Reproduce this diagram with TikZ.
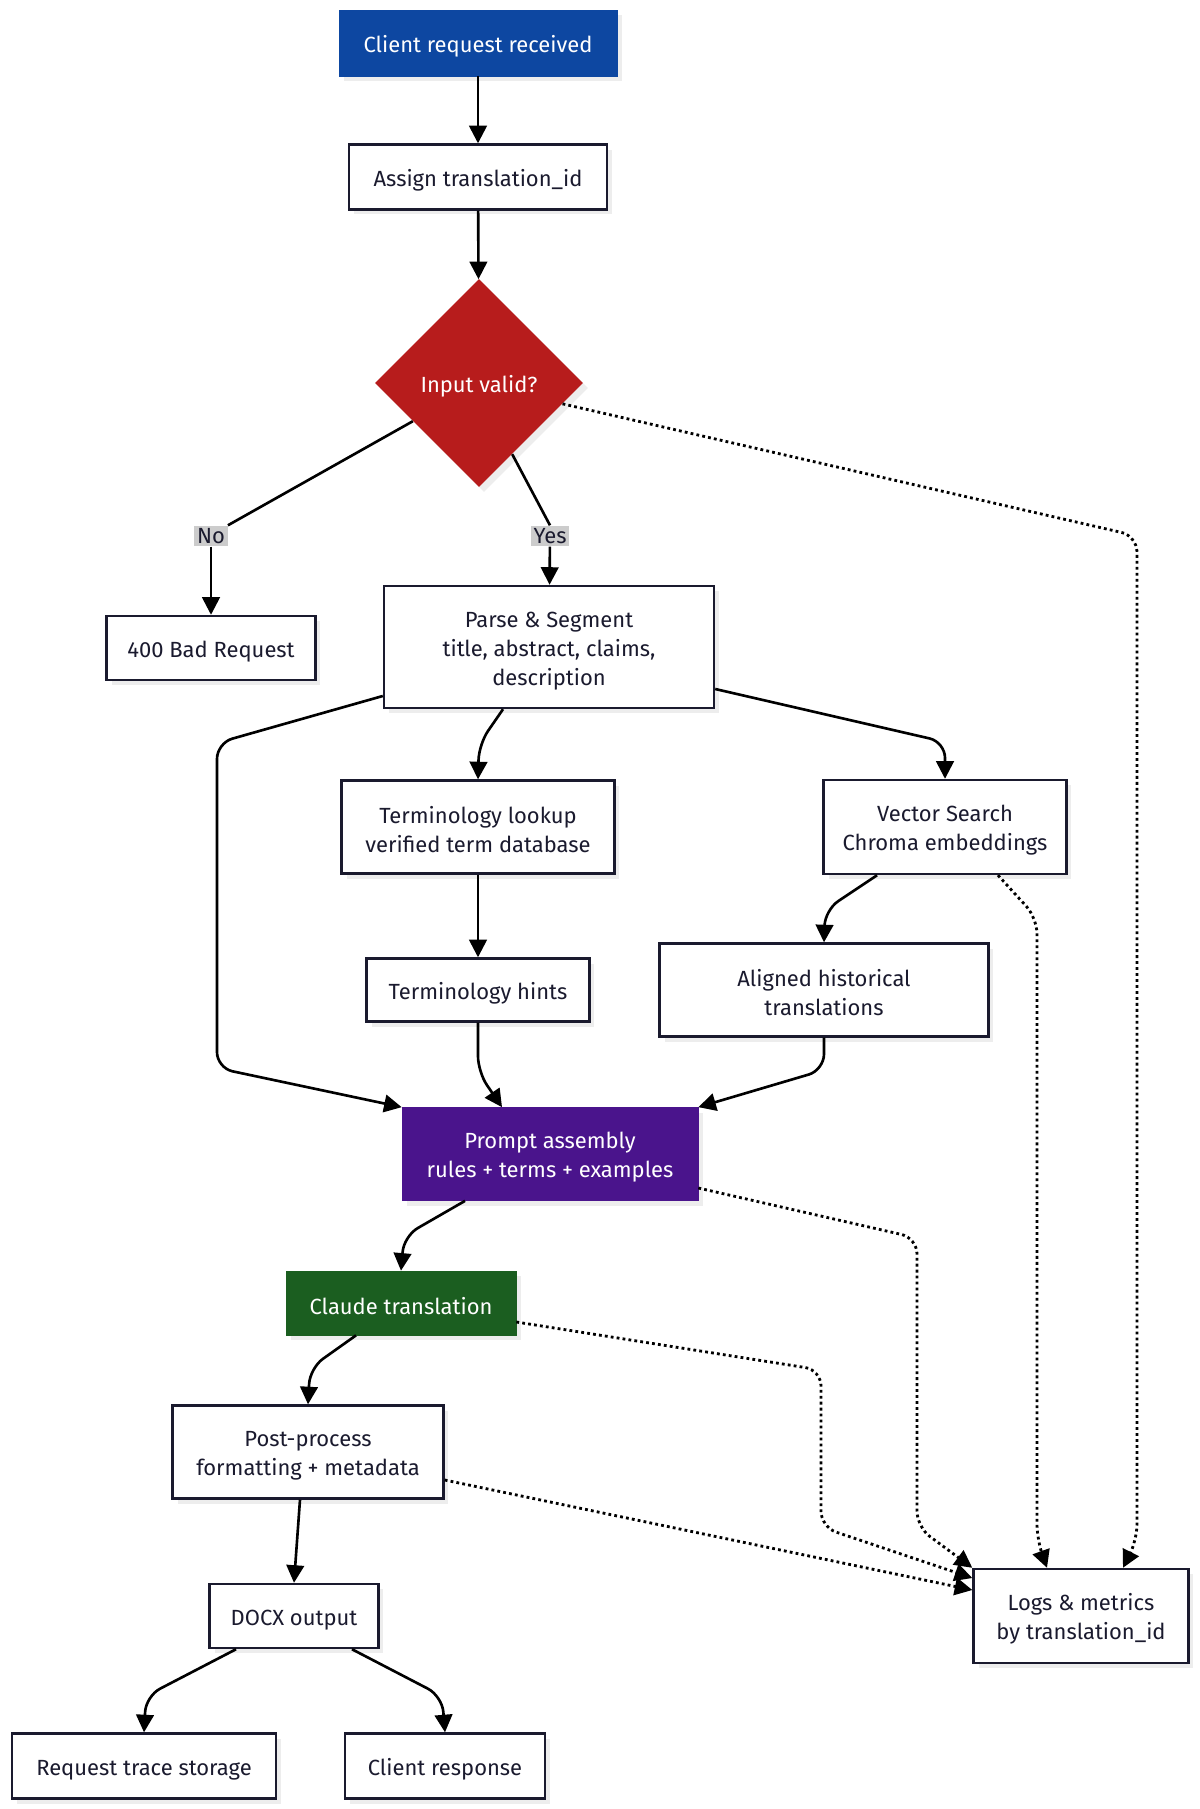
\documentclass[tikz,border=0pt]{standalone}
\usepackage{fontspec}
\setmainfont{Fira Sans}
\usetikzlibrary{arrows.meta,shapes.geometric,shadows}
\definecolor{inkcolor}{RGB}{26,26,46}
\definecolor{startcolor}{RGB}{13,71,161}
\definecolor{checkcolor}{RGB}{183,28,28}
\definecolor{promptcolor}{RGB}{74,20,140}
\definecolor{llmcolor}{RGB}{27,94,32}
\definecolor{labelcolor}{RGB}{204,204,204}
\newcommand{\firstlinegap}{\rule{0pt}{13pt}}
\tikzset{
  box shadow/.style={
    drop shadow={shadow xshift=0.1cm, shadow yshift=-0.1cm, fill=black!7, opacity=1}
  },
  proc box/.style={
    rectangle,
    draw=inkcolor,
    fill=white,
    line width=1.4pt,
    text=inkcolor,
    align=center,
    inner sep=2pt,
    font=\fontsize{12.5}{16.5}\selectfont,
    execute at begin node={\firstlinegap},
    box shadow
  },
  dark box/.style={
    proc box,
    draw=#1,
    fill=#1,
    line width=0.4pt,
    text=white
  },
  decision/.style={
    diamond,
    aspect=1,
    fill=checkcolor,
    inner sep=0pt,
    minimum width=4.16cm,
    minimum height=4.16cm,
    text=white,
    font=\fontsize{12.5}{16.5}\selectfont,
    execute at begin node={\firstlinegap},
    box shadow
  },
  edge label/.style={
    rectangle,
    fill=labelcolor,
    text=inkcolor,
    inner sep=1.5pt,
    font=\fontsize{12.5}{14}\selectfont
  },
  flow/.style={
    draw=black,
    line width=1.5pt,
    rounded corners=9pt,
    -{Triangle[length=10pt,width=10pt]}
  },
  logflow/.style={
    flow,
    line width=1.6pt,
    dash pattern=on 1.6pt off 1.8pt
  }
}

\begin{document}
\begin{tikzpicture}[x=0.02cm, y=-0.02cm]
  \useasboundingbox (0,0) rectangle (1200,1809);

  % nodes, main path
  \node[dark box=startcolor, minimum width=5.56cm, minimum height=1.32cm] (client) at (478,43) {Client request received};
  \node[proc box, minimum width=5.16cm, minimum height=1.3cm] (assign) at (478,177) {Assign translation\_id};
  \node[decision] (valid) at (479,383) {Input valid?};
  \node[edge label] (no) at (211,536) {No};
  \node[edge label] (yes) at (550,536) {Yes};
  \node[proc box, minimum width=4.18cm, minimum height=1.28cm] (bad) at (211,648) {400 Bad Request};
  \node[proc box, minimum width=6.6cm, minimum height=2.44cm] (parse) at (549,647) {\firstlinegap Parse \& Segment\\title, abstract, claims,\\description};
  \node[proc box, minimum width=5.46cm, minimum height=1.86cm] (lookup) at (478,827) {\firstlinegap Terminology lookup\\verified term database};
  \node[proc box, minimum width=4.86cm, minimum height=1.88cm] (vector) at (945,827) {\firstlinegap Vector Search\\Chroma embeddings};
  \node[proc box, minimum width=4.46cm, minimum height=1.26cm] (hints) at (478,990) {Terminology hints};
  \node[proc box, minimum width=6.58cm, minimum height=1.86cm] (aligned) at (824,990) {\firstlinegap Aligned historical\\translations};
  \node[dark box=promptcolor, minimum width=5.92cm, minimum height=1.86cm] (prompt) at (550,1154) {\firstlinegap Prompt assembly\\rules + terms + examples};
  \node[dark box=llmcolor, minimum width=4.6cm, minimum height=1.28cm] (claude) at (401,1303) {Claude translation};
  \node[proc box, minimum width=5.42cm, minimum height=1.86cm] (post) at (308,1452) {\firstlinegap Post-process\\formatting + metadata};
  \node[proc box, minimum width=3.38cm, minimum height=1.28cm] (docx) at (294,1616) {DOCX output};
  \node[proc box, minimum width=4.3cm, minimum height=1.88cm] (logs) at (1081,1616) {\firstlinegap Logs \& metrics\\by translation\_id};
  \node[proc box, minimum width=5.28cm, minimum height=1.3cm] (trace) at (144,1766) {Request trace storage};
  \node[proc box, minimum width=4.0cm, minimum height=1.3cm] (response) at (445,1766) {Client response};

  % solid connectors
  \draw[flow] (client) -- (assign);
  \draw[flow] (assign) -- (valid);
  \draw[line width=1.5pt] (valid.210) -- (no.north east);
  \draw[flow] (no) -- (bad);
  \draw[line width=1.5pt] (valid.295) -- (yes.north);
  \draw[flow] (yes) -- (parse);
  \draw[flow] ([yshift=-0.98cm]parse.west) -- (217,743) -- (217,1068) -- (prompt.north west);
  \draw[flow] ([xshift=-0.92cm]parse.south) -- (479,744) -- (lookup.north);
  \draw[flow] ([yshift=-0.84cm]parse.east) -- (945,742) -- (vector.north);
  \draw[flow] (lookup) -- (hints);
  \draw[flow] ([xshift=-1.36cm]vector.south) -- (825,910) -- (aligned.north);
  \draw[flow] (hints.south) -- (478,1072) -- ([xshift=-0.96cm]prompt.north);
  \draw[flow] (aligned.south) -- (824,1070) -- (prompt.north east);
  \draw[flow] ([xshift=-1.7cm]prompt.south) -- (404,1236) -- (claude.north);
  \draw[flow] ([xshift=-0.9cm]claude.south) -- (310,1368) -- (post.north);
  \draw[flow] ([xshift=-0.16cm]post.south) -- (docx.north);
  \draw[flow] ([xshift=-1.16cm]docx.south) -- (146,1696) -- (trace.north);
  \draw[flow] ([xshift=1.16cm]docx.south) -- (442,1696) -- (response.north);

  % dotted connectors to logs
  \draw[logflow] (valid.346) -- (1137,536) -- (1137,1540) -- ([xshift=0.84cm]logs.north);
  \draw[logflow] ([xshift=1.06cm]vector.south) -- (1037,918) -- (1037,1540) -- ([xshift=-0.68cm]logs.north);
  \draw[logflow] ([yshift=-0.68cm]prompt.east) -- (917,1238) -- (917,1527) -- (logs.north west);
  \draw[logflow] ([yshift=-0.38cm]claude.east) -- (821,1370) -- (821,1527) -- ([yshift=0.76cm]logs.west);
  \draw[logflow] ([yshift=-0.56cm]post.east) -- ([yshift=0.52cm]logs.west);
\end{tikzpicture}
\end{document}
